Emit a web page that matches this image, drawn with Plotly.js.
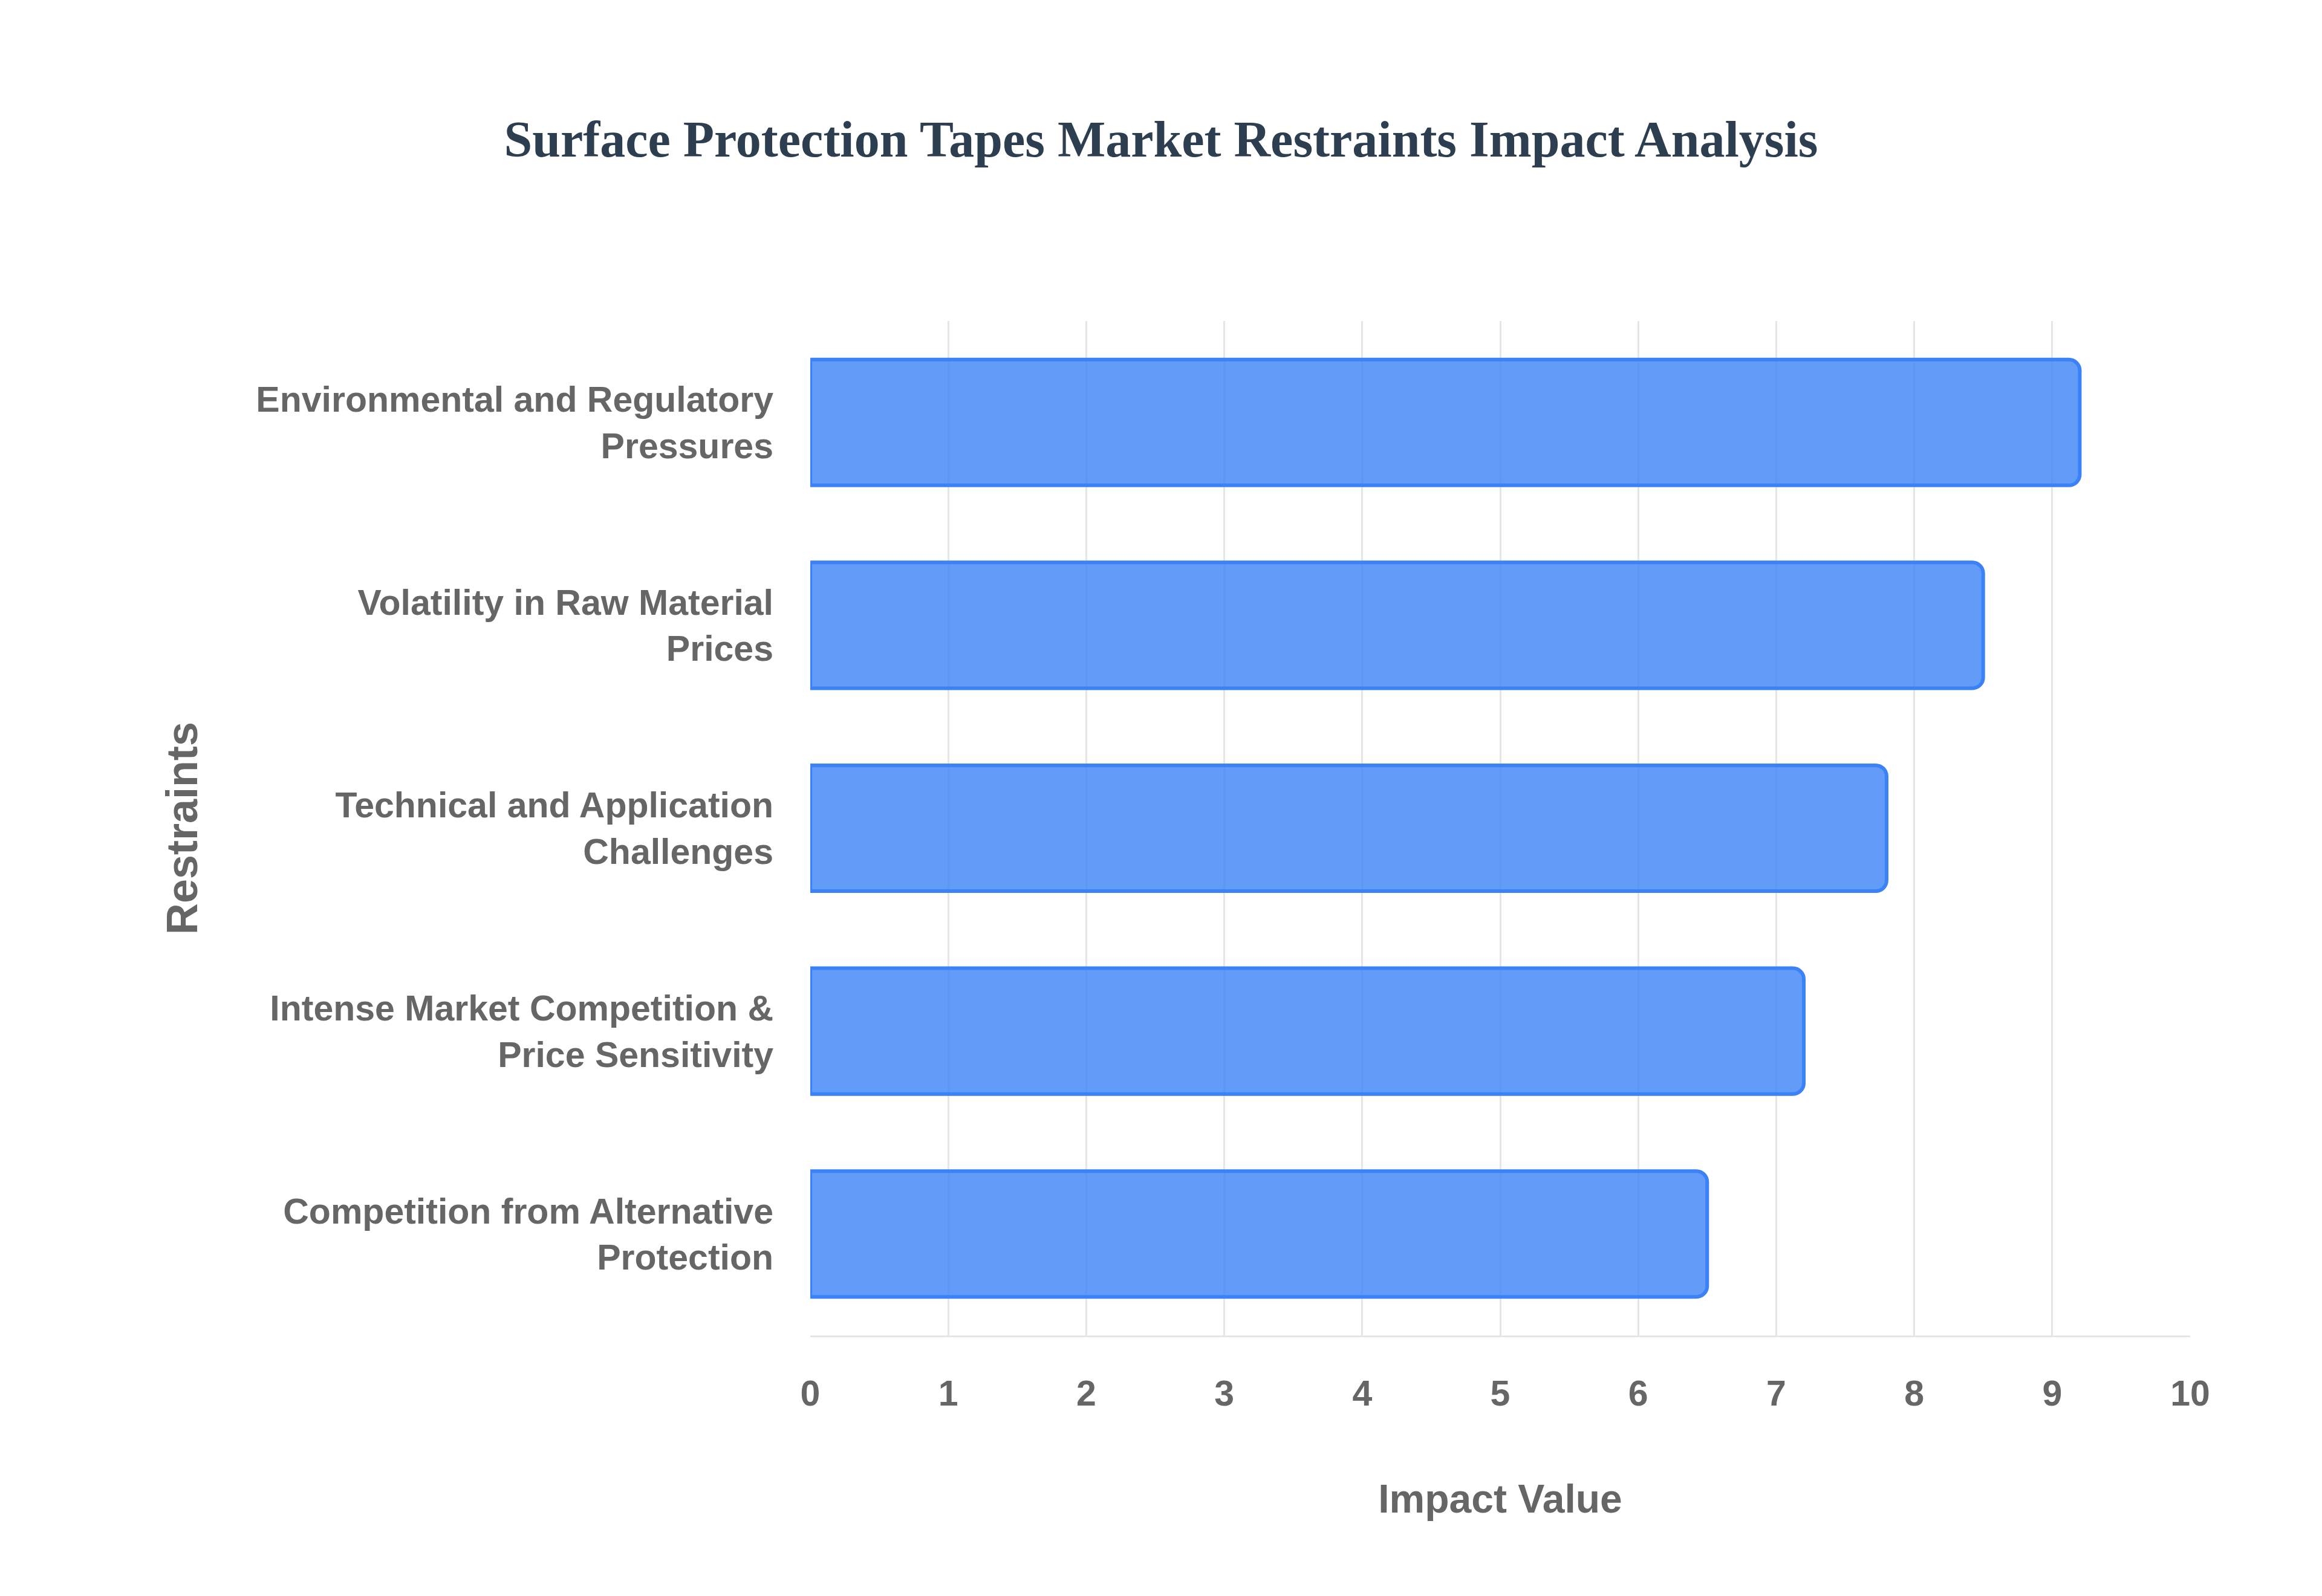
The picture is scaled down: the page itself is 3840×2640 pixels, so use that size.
<!DOCTYPE html>
<html>
<head>
<meta charset="utf-8">
<script src="https://cdn.plot.ly/plotly-3.0.1.min.js"></script>
<style>
  html, body { margin: 0; padding: 0; background: #fff; }
  #plot { width: 3840px; height: 2640px; }
</style>
</head>
<body>
<div id="plot"></div>
<script>
  // Restraints, listed top to bottom as shown
  var restraints = [
    "Environmental and Regulatory<br>Pressures",
    "Volatility in Raw Material<br>Prices",
    "Technical and Application<br>Challenges",
    "Intense Market Competition &<br>Price Sensitivity",
    "Competition from Alternative<br>Protection"
  ];
  var impactValues = [9.2, 8.5, 7.8, 7.2, 6.5];
  var xTicks = [0, 1, 2, 3, 4, 5, 6, 7, 8, 9, 10];

  var labelFont = {
    family: 'Liberation Sans, Arial, sans-serif',
    size: 59,
    color: '#666666',
    weight: 'bold'
  };

  var trace = {
    type: 'bar',
    orientation: 'h',
    x: impactValues,
    y: restraints,
    width: 0.62,
    marker: {
      color: 'rgba(59,130,246,0.8)',
      line: { color: '#3b82f6', width: 6 },
      cornerradius: 18
    },
    hoverinfo: 'x+y'
  };

  var layout = {
    width: 3840,
    height: 2640,
    paper_bgcolor: '#ffffff',
    plot_bgcolor: '#ffffff',
    margin: { l: 1340, r: 218, t: 531, b: 431 },
    title: {
      text: '<b>Surface Protection Tapes Market Restraints Impact Analysis</b>',
      font: { family: 'Liberation Serif, Times New Roman, serif', size: 84, color: '#2c3e50' },
      x: 0.5,
      xanchor: 'center',
      y: 0.913,
      yanchor: 'middle'
    },
    xaxis: {
      range: [0, 10],
      tickvals: xTicks,
      showgrid: true,
      gridcolor: '#e6e6e6',
      gridwidth: 3,
      zeroline: false,
      showline: true,
      linecolor: '#e6e6e6',
      linewidth: 3,
      ticks: '',
      ticklabelstandoff: 42,
      tickfont: labelFont,
      title: {
        text: 'Impact Value',
        font: { family: 'Liberation Sans, Arial, sans-serif', size: 66, color: '#666666', weight: 'bold' },
        standoff: 120
      }
    },
    yaxis: {
      autorange: 'reversed',
      showgrid: false,
      zeroline: false,
      showline: false,
      ticks: '',
      ticklabelstandoff: 60,
      tickfont: labelFont,
      title: {
        text: 'Restraints',
        font: { family: 'Liberation Sans, Arial, sans-serif', size: 72, color: '#666666', weight: 'bold' },
        standoff: 73
      }
    },
    showlegend: false,
    bargap: 0.38
  };

  Plotly.newPlot('plot', [trace], layout, { displayModeBar: false, staticPlot: true });
</script>
</body>
</html>
